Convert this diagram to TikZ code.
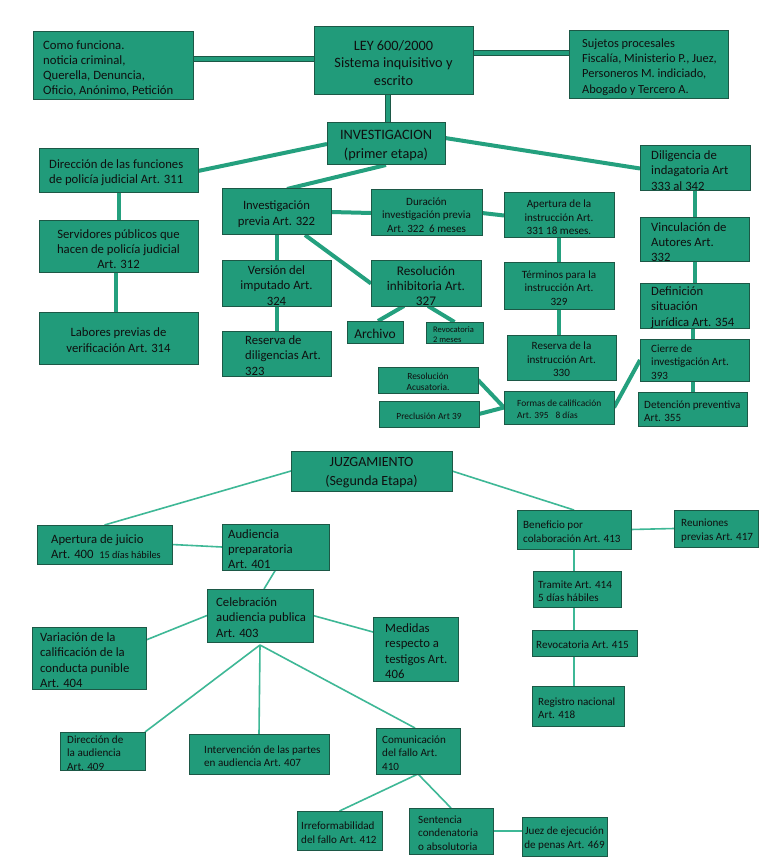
\documentclass[tikz,border=0pt]{standalone}
\usepackage{fontspec}
\setmainfont{Carlito}
\usetikzlibrary{backgrounds,calc}
\definecolor{boxg}{RGB}{33,155,122}
\definecolor{bord}{RGB}{28,88,70}
\definecolor{conTc}{RGB}{36,160,126}
\definecolor{conBc}{RGB}{62,184,150}
\definecolor{txtc}{RGB}{15,15,15}
\def\fzL{\fontsize{14.3}{17.5}\selectfont}
\def\fzXL{\fontsize{14.3}{19}\selectfont}
\def\fzJ{\fontsize{14}{19}\selectfont}
\def\fzM{\fontsize{12.7}{15}\selectfont}
\def\fzMp{\fontsize{12.7}{15.3}\selectfont}
\def\fzSj{\fontsize{12.4}{15.3}\selectfont}
\def\fzI{\fontsize{13.2}{15}\selectfont}
\def\fzA{\fontsize{13.5}{15}\selectfont}
\def\fzSm{\fontsize{11.1}{14}\selectfont}
\def\fzS{\fontsize{11.1}{13.5}\selectfont}
\def\fzXS{\fontsize{9.4}{11.5}\selectfont}
\def\fzT{\fontsize{8.5}{10}\selectfont}
\tikzset{
  box/.style={draw=bord,fill=boxg,line width=1pt,inner sep=0pt,outer sep=0pt},
  txt/.style={inner sep=0pt,text=txtc,yshift=-2pt},
  conT/.style={draw=conTc,line width=4pt},
  conB/.style={draw=conBc,line width=1.6pt},
  dbl/.style={draw=bord,line width=1pt,double=boxg,double distance=4pt},
}
% centered box: name x1 y1 x2 y2 font text
\newcommand\bxc[7]{\pgfmathsetmacro\bxw{#4-#2}\pgfmathsetmacro\bxh{#5-#3}%
  \node[box,anchor=north west,minimum width=\bxw pt,minimum height=\bxh pt] (#1) at (#2,#3) {};%
  \node[txt,font=#6,align=center] (#1-t) at (#1.center) {#7};}
% left box: xs name x1 y1 x2 y2 font text
\newcommand\bxl[8]{\pgfmathsetmacro\bxw{#5-#3}\pgfmathsetmacro\bxh{#6-#4}%
  \node[box,anchor=north west,minimum width=\bxw pt,minimum height=\bxh pt] (#2) at (#3,#4) {};%
  \node[txt,font=#7,align=left,anchor=west] (#2-t) at ([xshift=#1pt]#2.west) {#8};}
\begin{document}
\begin{tikzpicture}[x=1pt,y=-1pt]
\useasboundingbox (0,0) rectangle (768,866);
% ---------- first stage ----------
\bxl{10}{como}{33}{32}{193}{100}{\fzM}{Como funciona.\\noticia criminal,\\Querella, Denuncia,\\Oficio, Anónimo, Petición}
\bxc{ley}{314}{27}{473}{95}{\fzL}{LEY 600/2000\\Sistema inquisitivo y\\escrito}
\bxl{13}{suj}{569}{31}{728}{99}{\fzSj}{Sujetos procesales\\Fiscalía, Ministerio P., Juez,\\Personeros M. indiciado,\\Abogado y Tercero A.}
\bxc{inv}{327}{123}{445}{165}{\fzXL}{INVESTIGACION\\(primer etapa)}
\bxl{10}{dir}{39}{149}{198}{193}{\fzM}{Dirección de las funciones\\de policía judicial Art. 311}
\bxc{serv}{39}{221}{198}{273}{\fzMp}{Servidores públicos que\\hacen de policía judicial\\Art. 312}
\bxc{lab}{39}{312}{198}{364}{\fzMp}{Labores previas de\\verificación Art. 314}
\bxc{prev}{222}{189}{331}{235}{\fzMp}{Investigación\\previa Art. 322}
\bxc{ver}{222}{261}{331}{306}{\fzMp}{Versión del\\imputado Art.\\324}
\bxl{23}{resd}{222}{331}{331}{376}{\fzMp}{Reserva de\\diligencias Art.\\323}
\bxc{dur}{371}{190}{482}{236}{\fzS}{Duración\\investigación previa\\Art. 322~~6 meses}
\bxc{ape}{504}{193}{614}{238}{\fzS}{Apertura de la\\instrucción Art.\\331 18 meses.}
\bxc{inh}{371}{261}{481}{306}{\fzI}{Resolución\\inhibitoria Art.\\327}
\bxc{arc}{347}{321}{403}{343}{\fzA}{Archivo}
\bxl{7}{rev}{426}{322}{483}{343}{\fzT}{Revocatoria\\2 meses}
\bxc{ter}{504}{263}{614}{309}{\fzS}{Términos para la\\instrucción Art.\\329}
\bxc{resi}{507}{335}{616}{380}{\fzS}{Reserva de la\\instrucción Art.\\330}
\bxc{acu}{378}{367}{478}{393}{\fzXS}{Resolución\\Acusatoria.}
\bxc{pre}{379}{401}{479}{427}{\fzXS}{Preclusión Art 39}
\bxl{13}{for}{504}{391}{614}{424}{\fzXS}{Formas de calificación\\Art. 395\hspace{7pt}8 días}
\bxl{11}{dil}{640}{146}{750}{191}{\fzMp}{Diligencia de\\indagatoria Art\\333 al 342}
\bxl{11}{vin}{640}{218}{749}{262}{\fzMp}{Vinculación de\\Autores Art.\\332}
\bxl{11}{def}{640}{283}{749}{328}{\fzMp}{Definición\\situación\\jurídica Art. 354}
\bxl{11}{cie}{640}{339}{749}{381}{\fzS}{Cierre de\\investigación Art.\\393}
\bxl{6}{det}{638}{392}{747}{426}{\fzS}{Detención preventiva\\Art. 355}
% ---------- second stage ----------
\bxc{juz}{291}{451}{452}{491}{\fzJ}{JUZGAMIENTO\\(Segunda Etapa)}
\bxl{14}{aju}{37}{525}{172}{564}{\fzM}{Apertura de juicio\\Art. 400~~{\fontsize{10.3}{12}\selectfont 15 días hábiles}}
\bxl{6}{aud}{222}{524}{329}{570}{\fzMp}{Audiencia\\preparatoria\\Art. 401}
\bxl{9}{cel}{207}{589}{313}{642}{\fzMp}{Celebración\\audiencia publica\\Art. 403}
\bxl{8}{var}{32}{627}{146}{689}{\fzMp}{Variación de la\\calificación de la\\conducta punible\\Art. 404}
\bxl{12}{med}{373}{617}{458}{681}{\fzMp}{Medidas\\respecto a\\testigos Art.\\406}
\bxl{7}{dau}{60}{732}{145}{770}{\fzS}{Dirección de\\la audiencia\\Art. 409}
\bxl{15}{int}{189}{734}{329}{774}{\fzS}{Intervención de las partes\\en audiencia Art. 407}
\bxl{6}{com}{376}{728}{460}{774}{\fzS}{Comunicación\\del fallo Art.\\410}
\bxl{4}{irr}{297}{811}{382}{850}{\fzS}{Irreformabilidad\\del fallo Art. 412}
\bxl{9}{sen}{409}{808}{493}{854}{\fzS}{Sentencia\\condenatoria\\o absolutoria}
\bxc{jue}{522}{817}{607}{856}{\fzS}{Juez de ejecución\\de penas Art. 469}
\bxl{6}{ben}{517}{510}{631}{549}{\fzSm}{Beneficio por\\colaboración Art. 413}
\bxl{7}{reu}{674}{510}{758}{547}{\fzSm}{Reuniones\\previas Art. 417}
\bxl{5}{tra}{533}{571}{621}{607}{\fzS}{Tramite Art. 414\\5 días hábiles}
\bxl{4}{rvc}{532}{630}{637}{656}{\fzS}{Revocatoria Art. 415}
\bxl{6}{reg}{532}{686}{624}{726}{\fzS}{Registro nacional\\Art. 418}
% ---------- connectors ----------
\begin{scope}[on background layer]
\fill[white] (0,0) rectangle (768,866);
\draw[dbl] ([yshift=7pt]como.east) -- ([yshift=2pt]ley.west);
\draw[dbl] ([yshift=7.5pt]ley.east) -- ([yshift=11.5pt]suj.west);
\draw[dbl] ([xshift=-5.5pt]ley.south) -- ([xshift=2pt]inv.north);
\draw[conT] (inv.west) -- (dir.east);
\draw[conT] (inv.south) -- ([xshift=10.5pt]prev.north);
\draw[conT] ([yshift=6pt]inv.east) -- (dil.west);
\draw[conT] (dir.south) -- (serv.north);
\draw[conT] ([xshift=-3pt]serv.south) -- ([xshift=-3pt]lab.north);
\draw[conT] (prev.east) -- (dur.west);
\draw[conT] (dur.east) -- (ape.west);
\draw[conT] ([xshift=-26pt]prev.south east) -- (inh.west);
\draw[conT] (prev.south) -- (ver.north);
\draw[conT] (ver.south) -- (resd.north);
\draw[conT] (ape.south) -- (ter.north);
\draw[conT] (ter.south) -- (ter.south |- resi.north);
\draw[conT] ([xshift=-22pt]inh.south) -- ([xshift=3pt]arc.north);
\draw[conT] ([xshift=2pt]inh.south) -- (rev.north);
\draw[conT] (acu.east) -- (for.west);
\draw[conT] (pre.east) -- (for.west);
\draw[conT] (for.east) -- (cie.west);
\draw[conT] (dil.south) -- (dil.south |- vin.north);
\draw[conT] (vin.south) -- (def.north);
\draw[conT] ([xshift=-1.5pt]def.south) -- ([xshift=-1.5pt]cie.north);
\draw[conT] ([xshift=-1.5pt]cie.south) -- ([xshift=-1.5pt]cie.south |- det.north);
\draw[conB] (juz.west) -- (aju.north);
\draw[conB] (juz.east) -- (ben.north);
\draw[conB] (aju.east) -- (aud.west);
\draw[conB] (aud.south) -- ([xshift=4pt]cel.north);
\draw[conB] (cel.west) -- ([yshift=18pt]var.east);
\draw[conB] (cel.east) -- ([yshift=17pt]med.west);
\draw[conB] ([yshift=-3pt]cel.south) -- (dau.north east);
\draw[conB] ([yshift=-3pt]cel.south) -- (int.north);
\draw[conB] ([yshift=-3pt]cel.south) -- ([xshift=-3pt]com.north);
\draw[conB] (com.south) -- (irr.north);
\draw[conB] (com.south) -- (sen.north);
\draw[conB] (sen.east) -- (sen.east -| jue.west);
\draw[conB] (ben.east) -- (reu.west);
\draw[conB] (ben.south) -- (ben.south |- tra.north);
\draw[conB] (ben.south |- tra.south) -- (ben.south |- rvc.north);
\draw[conB] (ben.south |- rvc.south) -- (ben.south |- reg.north);
\end{scope}
\end{tikzpicture}
\end{document}
